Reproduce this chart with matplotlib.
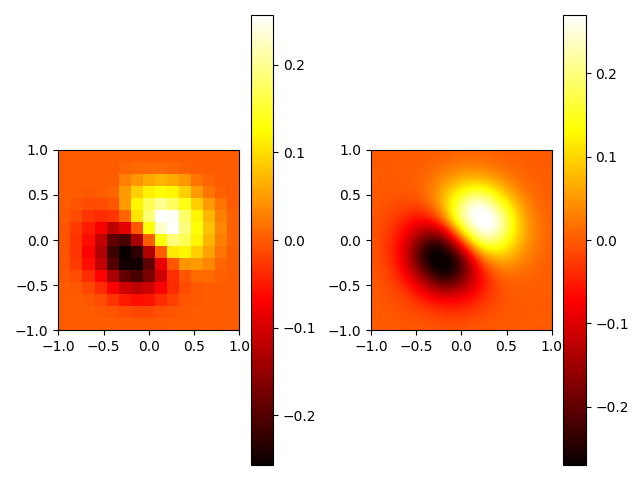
import matplotlib
matplotlib.use("Agg")
import matplotlib.pyplot as plt
import numpy as np

# coarse panel, 15 x 15 cells, rows listed top (y=1) to bottom (y=-1)
coarse_rows = [
    [0, 0, 0, 0, 0, 0, 0, 0, 0, 0, 0, 0, 0, 0, 0],
    [0, 0, 0, 0, 0.002, 0.008, 0.012, 0.012, 0.012, 0.01, 0.006, 0.003, 0.001, 0, 0],
    [0, 0, 0, 0.001, 0.003, 0.03, 0.045, 0.06, 0.07, 0.06, 0.045, 0.02, 0.008, 0.001, 0],
    [0, 0, -0.003, 0.002, 0.01, 0.05, 0.09, 0.115, 0.13, 0.12, 0.09, 0.05, 0.02, 0.005, 0],
    [0, -0.005, -0.012, -0.012, -0.005, 0.05, 0.12, 0.17, 0.2, 0.175, 0.135, 0.09, 0.05, 0.02, 0.002],
    [-0.002, -0.012, -0.03, -0.035, -0.03, 0.008, 0.105, 0.185, 0.257, 0.25, 0.18, 0.12, 0.07, 0.03, 0.005],
    [-0.005, -0.025, -0.05, -0.075, -0.12, -0.09, -0.004, 0.13, 0.23, 0.257, 0.19, 0.13, 0.08, 0.035, 0.005],
    [-0.005, -0.03, -0.06, -0.115, -0.19, -0.21, -0.135, 0, 0.13, 0.19, 0.17, 0.12, 0.07, 0.03, 0.005],
    [-0.005, -0.03, -0.07, -0.13, -0.215, -0.257, -0.23, -0.13, 0.0, 0.11, 0.12, 0.09, 0.055, 0.02, 0.003],
    [-0.005, -0.025, -0.06, -0.115, -0.2, -0.25, -0.25, -0.19, -0.085, -0.005, 0.045, 0.05, 0.035, 0.01, 0],
    [-0.003, -0.012, -0.035, -0.07, -0.135, -0.19, -0.21, -0.17, -0.105, -0.035, -0.005, 0.012, 0.012, 0.005, 0],
    [0, -0.004, -0.015, -0.035, -0.07, -0.105, -0.12, -0.105, -0.07, -0.035, -0.012, -0.002, 0, 0, 0],
    [0, 0, -0.004, -0.012, -0.03, -0.05, -0.06, -0.055, -0.035, -0.02, -0.006, -0.002, 0, 0, 0],
    [0, 0, 0, -0.003, -0.006, -0.012, -0.015, -0.015, -0.01, -0.005, -0.002, 0, 0, 0, 0],
    [0, 0, 0, 0, 0, -0.001, -0.002, -0.002, -0.001, 0, 0, 0, 0, 0, 0],
]

# smooth panel, samples every 0.2, rows top (y=1) to bottom (y=-1)
smooth_rows = [
    [0, 0, 0, 0.001, 0.003, 0.007, 0.007, 0.004, 0.002, 0, 0],
    [0, 0, 0.001, 0.007, 0.02, 0.033, 0.034, 0.022, 0.01, 0.003, 0],
    [0, -0.001, 0, 0.015, 0.054, 0.1, 0.115, 0.08, 0.033, 0.01, 0.002],
    [-0.002, -0.007, -0.015, 0, 0.074, 0.185, 0.24, 0.175, 0.08, 0.022, 0.004],
    [-0.004, -0.02, -0.054, -0.074, 0, 0.175, 0.27, 0.24, 0.115, 0.034, 0.007],
    [-0.007, -0.033, -0.1, -0.185, -0.175, 0, 0.175, 0.185, 0.1, 0.033, 0.007],
    [-0.007, -0.034, -0.115, -0.24, -0.27, -0.175, 0, 0.074, 0.054, 0.02, 0.004],
    [-0.004, -0.022, -0.08, -0.175, -0.24, -0.185, -0.074, 0, 0.015, 0.007, 0.002],
    [-0.002, -0.01, -0.033, -0.08, -0.115, -0.1, -0.054, -0.015, 0, 0.001, 0],
    [0, -0.003, -0.01, -0.022, -0.034, -0.033, -0.02, -0.007, -0.001, 0, 0],
    [0, 0, -0.002, -0.004, -0.007, -0.007, -0.003, -0.001, 0, 0, 0],
]

edges = np.linspace(-1, 1, 16)

fig, (ax1, ax2) = plt.subplots(1, 2)

mesh = ax1.pcolormesh(edges, edges, np.array(coarse_rows)[::-1], cmap="hot")
ax1.set_aspect("equal")
fig.colorbar(mesh, ax=ax1)

im = ax2.imshow(smooth_rows, extent=(-1.1, 1.1, -1.1, 1.1), cmap="hot",
                interpolation="spline36")
ax2.set_xlim(-1, 1)
ax2.set_ylim(-1, 1)
fig.colorbar(im, ax=ax2)

fig.tight_layout()
fig.savefig("out.png", dpi=100)
